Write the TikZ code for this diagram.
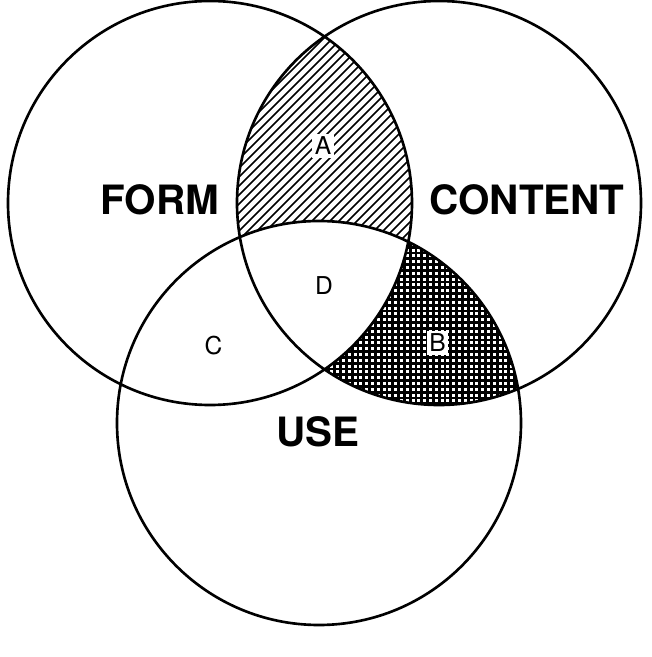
\documentclass[tikz,border=0pt]{standalone}
\usepackage{fontspec}
\setmainfont{TeX Gyre Heros}
\usepackage{tikz}
\usetikzlibrary{calc}
\newcommand{\rad}{202}

\begin{document}
\begin{tikzpicture}[x=0.02cm,y=0.02cm,
    ring/.style={line width=1.5pt},
    hatch/.style={line width=0.9pt},
    mesh/.style={line width=1.6pt},
    big/.style={font=\bfseries\fontsize{23}{23}\selectfont,inner sep=0pt},
    small/.style={font=\fontsize{14}{14}\selectfont,fill=white,inner sep=1.5pt}]
    \useasboundingbox (0,0) rectangle (652,657);
    \coordinate (cf) at (210,454);
    \coordinate (cc) at (439,454);
    \coordinate (cu) at (319,234);
    \begin{scope}
      \clip (cf) circle (\rad);
      \clip (cc) circle (\rad);
      \foreach \d in {-430,-421,...,20}
        \draw[hatch] (\d+400,400) -- (\d+700,700);
    \end{scope}
    \begin{scope}
      \clip (cc) circle (\rad);
      \clip (cu) circle (\rad);
      \fill[white] (300,230) rectangle (540,440);
      \foreach \x in {300,305.8,...,540}
        \draw[mesh] (\x,230) -- (\x,440);
      \foreach \y in {230,235.8,...,440}
        \draw[mesh] (300,\y) -- (540,\y);
    \end{scope}
    \begin{scope}
      \clip (cf) circle (\rad);
      \fill[white] (cu) circle (\rad);
    \end{scope}
    \draw[ring] (cf) circle (\rad) (cc) circle (\rad) (cu) circle (\rad);
    \node[big] (form) at (160,457) {FORM};
    \node[big] (content) at (527,457) {CONTENT};
    \node[big] (use) at (318,225) {USE};
    \node[small] (a) at (323,511) {A};
    \node[small] (b) at (437.5,314) {B};
    \node[small,fill=none] (c) at (213.5,311) {C};
    \node[small,fill=none] (d) at (324,371) {D};
\end{tikzpicture}
\end{document}
